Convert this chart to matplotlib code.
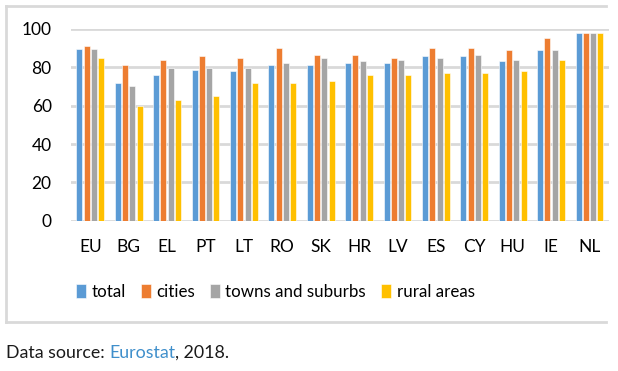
import matplotlib.pyplot as plt
import numpy as np
from matplotlib.lines import Line2D

countries = ["EU", "BG", "EL", "PT", "LT", "RO", "SK", "HR", "LV", "ES", "CY", "HU", "IE", "NL"]
total = [89.4, 71.8, 76.2, 78.8, 77.9, 81.4, 81.4, 82.3, 82.3, 85.7, 85.7, 83.1, 89.2, 98]
cities = [91, 81.4, 84, 85.7, 84.9, 90, 86.6, 86.6, 84.9, 90, 90, 89.2, 95.3, 98]
towns = [89.4, 70, 79.8, 79.8, 79.8, 82.4, 84.9, 83.1, 84, 84.9, 86.6, 84, 89.2, 98]
rural = [85, 59.8, 63.1, 64.9, 71.8, 71.8, 72.7, 76.2, 76.2, 77, 77, 77.9, 84, 98]

series = [("total", total, "#5B9BD5"),
          ("cities", cities, "#ED7D31"),
          ("towns and suburbs", towns, "#A5A5A5"),
          ("rural areas", rural, "#FFC000")]

plt.rcParams['font.family'] = ['Lato', 'DejaVu Sans']

fig = plt.figure(figsize=(6.18, 3.71), dpi=100)
ax = fig.add_axes([0.115, 0.405, 0.87, 0.517])

x = np.arange(len(countries))
step = 0.19
for i, (name, vals, col) in enumerate(series):
    ax.bar(x + (i - 1.5) * step, vals, width=0.155, color=col,
           edgecolor="white", linewidth=0.4, label=name, zorder=3)

ax.set_xlim(-0.5, len(countries) - 0.5)
ax.set_ylim(0, 100)
ax.set_yticks(range(0, 101, 20))
ax.grid(axis="y", color="#D9D9D9", linewidth=2, zorder=0)
ax.tick_params(axis="both", length=0, labelsize=12.5, colors="black")
ax.tick_params(axis="y", pad=14)
ax.tick_params(axis="x", pad=13)
ax.set_xticks(x)
ax.set_xticklabels(countries)
for s in ax.spines.values():
    s.set_visible(False)

ax.legend(loc="center", bbox_to_anchor=(0.38, -0.372), ncol=4, frameon=False,
          fontsize=12.2, handlelength=0.6, handleheight=0.9, handletextpad=0.3,
          columnspacing=0.9)

# frame around the chart (right side cropped in the source)
fx0, fx1 = 6 / 618, 606 / 618
fy0, fy1 = 1 - 322 / 371, 1 - 5.7 / 371
for xs, ys in [([fx0, fx1], [fy1, fy1]), ([fx0, fx0], [fy0, fy1]), ([fx0, fx1], [fy0, fy0])]:
    fig.add_artist(Line2D(xs, ys, color="#D9D9D9", linewidth=2, transform=fig.transFigure))

t1 = fig.text(6 / 618, 1 - 353 / 371, "Data source: ", fontsize=12.8, va="center", color="#1a1a1a")
fig.canvas.draw()
bb = t1.get_window_extent().transformed(fig.transFigure.inverted())
t2 = fig.text(bb.x1, 1 - 353 / 371, "Eurostat", fontsize=12.8, va="center", color="#3F8FCB")
fig.canvas.draw()
bb = t2.get_window_extent().transformed(fig.transFigure.inverted())
fig.text(bb.x1, 1 - 353 / 371, ", 2018.", fontsize=12.8, va="center", color="#1a1a1a")

fig.savefig("out.png", dpi=100)
